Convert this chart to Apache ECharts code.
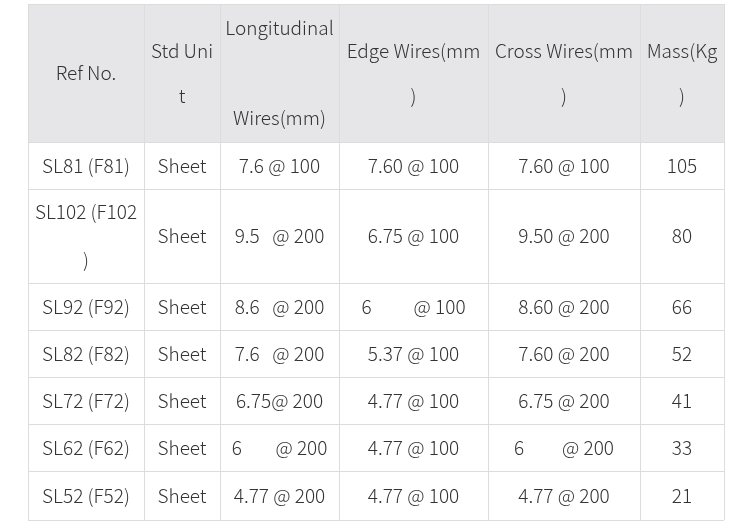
<!DOCTYPE html><html><head><meta charset="utf-8">
<script src="https://cdn.jsdelivr.net/npm/echarts@6/dist/echarts.min.js"></script>
<style>html,body{margin:0;background:#fff}#c{width:750px;height:526px}</style></head><body><div id="c"></div>
<script>
var headers = ["Ref No.", "Std Uni\nt", "Longitudinal\n\nWires(mm)", "Edge Wires(mm\n)", "Cross Wires(mm\n)", "Mass(Kg\n)"];
var refNo = ["SL81 (F81)", "SL102 (F102\n)", "SL92 (F92)", "SL82 (F82)", "SL72 (F72)", "SL62 (F62)", "SL52 (F52)"];
var stdUnit = ["Sheet", "Sheet", "Sheet", "Sheet", "Sheet", "Sheet", "Sheet"];
var longWires = ["7.6 @ 100", "9.5   @ 200", "8.6   @ 200", "7.6   @ 200", "6.75@ 200", "6        @ 200", "4.77 @ 200"];
var edgeWires = ["7.60 @ 100", "6.75 @ 100", "6          @ 100", "5.37 @ 100", "4.77 @ 100", "4.77 @ 100", "4.77 @ 100"];
var crossWires = ["7.60 @ 100", "9.50 @ 200", "8.60 @ 200", "7.60 @ 200", "6.75 @ 200", "6         @ 200", "4.77 @ 200"];
var mass = ["105", "80", "66", "52", "41", "33", "21"];

var colX = [28, 144, 220, 339, 488, 640, 724];
var rowY = [4, 142, 189, 283, 330, 377, 424, 471, 520];
var cols = [refNo, stdUnit, longWires, edgeWires, crossWires, mass];
var font = '"Noto Sans CJK SC", "Noto Sans", sans-serif';
var g = [];
g.push({type:'rect', shape:{x:colX[0], y:rowY[0], width:colX[6]-colX[0], height:rowY[1]-rowY[0]}, style:{fill:'#e6e6e8'}});
function cellText(txt, c, y0, y1, lh){
  g.push({type:'text', x:(colX[c]+colX[c+1])/2, y:(y0+y1)/2,
    style:{text:txt, fill:'#333', font:'300 19px '+font, lineHeight:lh, align:'center', verticalAlign:'middle'}});
}
for (var c=0;c<6;c++){
  cellText(headers[c], c, rowY[0], rowY[1], 45);
  for (var r=0;r<7;r++) cellText(cols[c][r], c, rowY[r+1], rowY[r+2], 48);
}
for (var i=0;i<colX.length;i++) g.push({type:'line', shape:{x1:colX[i]+0.5,y1:rowY[0],x2:colX[i]+0.5,y2:rowY[rowY.length-1]}, style:{stroke:'#dcdcdc',lineWidth:1}});
for (var j=0;j<rowY.length;j++) g.push({type:'line', shape:{x1:colX[0],y1:rowY[j]+0.5,x2:colX[6],y2:rowY[j]+0.5}, style:{stroke:'#dcdcdc',lineWidth:1}});
var chart = echarts.init(document.getElementById('c'));
chart.setOption({animation:false, graphic:g});
</script></body></html>
